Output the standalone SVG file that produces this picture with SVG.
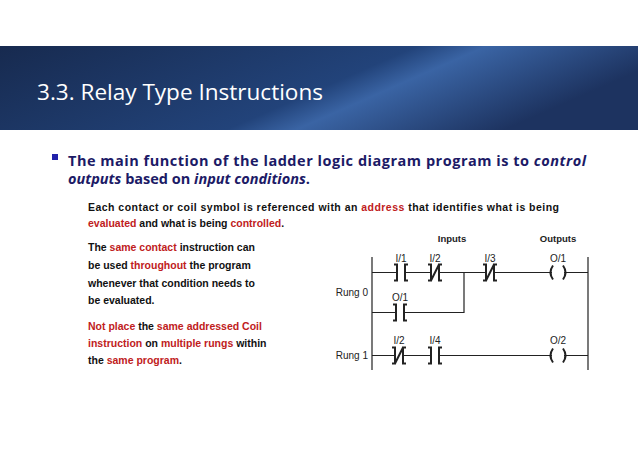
<svg xmlns="http://www.w3.org/2000/svg" width="638" height="451" viewBox="0 0 638 451">
<defs>
<linearGradient id="bg" x1="0" y1="0" x2="1" y2="0.3">
<stop offset="0" stop-color="#172a4f"/><stop offset="0.6" stop-color="#22437a"/><stop offset="0.7" stop-color="#3a64a4"/><stop offset="1" stop-color="#1d3360"/>
</linearGradient>
<style>
.t{font-family:"Liberation Sans",Arial,sans-serif;font-weight:bold;font-size:10.5px;fill:#111}
.r{fill:#c0201c}
.m{font-family:"Open Sans","Liberation Sans",sans-serif;font-weight:bold;font-size:14.5px;fill:#1c1a66}
.l{font-family:"Liberation Sans",Arial,sans-serif;font-size:10px;fill:#222}
.lb{font-family:"Liberation Sans",Arial,sans-serif;font-size:9.5px;font-weight:bold;fill:#222}
.w{stroke:#222;stroke-width:1.2;fill:none}
.c{stroke:#222;stroke-width:2;fill:none}
</style>
</defs>
<rect width="638" height="451" fill="#fff"/>
<rect x="0" y="46" width="638" height="84" fill="url(#bg)"/>
<text x="37" y="100" font-family="Open Sans,Liberation Sans,sans-serif" font-size="22" fill="#fff" textLength="286" lengthAdjust="spacingAndGlyphs">3.3. Relay Type Instructions</text>
<rect x="52" y="154" width="6" height="6" fill="#2222aa"/>
<text class="m" x="68" y="166" textLength="518">The main function of the ladder logic diagram program is to <tspan font-style="italic">control</tspan></text>
<text class="m" x="68" y="184"><tspan font-style="italic">outputs</tspan> based on <tspan font-style="italic">input conditions</tspan>.</text>
<text class="t" x="88" y="211" textLength="471">Each contact or coil symbol is referenced with an <tspan class="r">address</tspan> that identifies what is being</text>
<text class="t" x="88" y="227"><tspan class="r">evaluated</tspan> and what is being <tspan class="r">controlled</tspan>.</text>
<text class="t" x="88" y="251">The <tspan class="r">same contact</tspan> instruction can</text>
<text class="t" x="88" y="269">be used <tspan class="r">throughout</tspan> the program</text>
<text class="t" x="88" y="287">whenever that condition needs to</text>
<text class="t" x="88" y="304">be evaluated.</text>
<text class="t" x="88" y="330"><tspan class="r">Not place</tspan> the <tspan class="r">same addressed Coil</tspan></text>
<text class="t" x="88" y="347"><tspan class="r">instruction</tspan> on <tspan class="r">multiple rungs</tspan> within</text>
<text class="t" x="88" y="364">the <tspan class="r">same program</tspan>.</text>
<g id="connectors">
<path class="w" d="M372 257V370M588 257V370"/>
<path class="w" d="M372 272.5H397M405 272.5H431M439 272.5H486M494 272.5H552M564 272.5H588"/>
<path class="w" d="M372 312.5H396M404 312.5H464V272.5"/>
<path class="w" d="M372 355.5H395M403 355.5H431M439 355.5H552M564 355.5H588"/>
</g>
<g id="I1"><path class="c" d="M394 264.5h3v16h-3M408 264.5h-3v16h3"/><text class="l" x="401" y="262" text-anchor="middle">I/1</text></g>
<g id="I2a"><path class="c" d="M428 264.5h3v16h-3M442 264.5h-3v16h3M431 280.5L439 264.5"/><text class="l" x="435" y="262" text-anchor="middle">I/2</text></g>
<g id="I3"><path class="c" d="M483 264.5h3v16h-3M497 264.5h-3v16h3M486 280.5L494 264.5"/><text class="l" x="490" y="262" text-anchor="middle">I/3</text></g>
<g id="O1c"><path class="c" d="M393 304.5h3v16h-3M407 304.5h-3v16h3"/><text class="l" x="400" y="301" text-anchor="middle">O/1</text></g>
<g id="I2b"><path class="c" d="M392 347.5h3v16h-3M406 347.5h-3v16h3M395 363.5L403 347.5"/><text class="l" x="399" y="344" text-anchor="middle">I/2</text></g>
<g id="I4"><path class="c" d="M428 347.5h3v16h-3M442 347.5h-3v16h3"/><text class="l" x="435" y="344" text-anchor="middle">I/4</text></g>
<g id="O1"><path class="c" d="M553 265.5q-5 7 0 14M563 265.5q5 7 0 14"/><text class="l" x="558" y="262" text-anchor="middle">O/1</text></g>
<g id="O2"><path class="c" d="M553 348.5q-5 7 0 14M563 348.5q5 7 0 14"/><text class="l" x="558" y="344" text-anchor="middle">O/2</text></g>
<text class="lb" x="452" y="242" text-anchor="middle">Inputs</text>
<text class="lb" x="558" y="242" text-anchor="middle">Outputs</text>
<text class="l" x="368" y="296" text-anchor="end">Rung 0</text>
<text class="l" x="368" y="359" text-anchor="end">Rung 1</text>
</svg>
